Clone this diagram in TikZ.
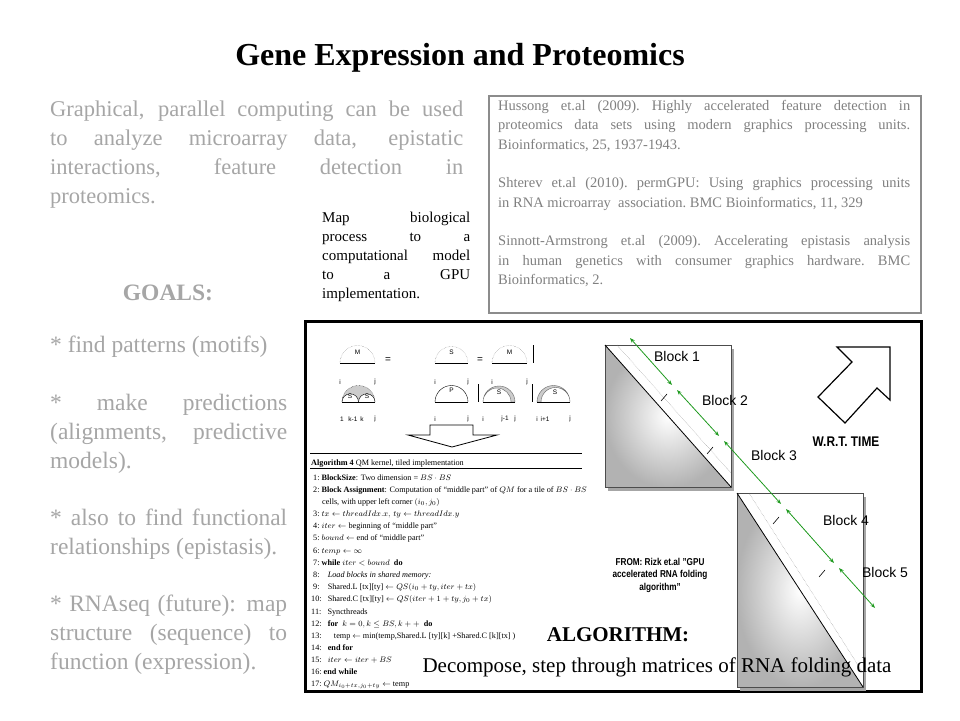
\documentclass[tikz,border=0pt]{standalone}
\usepackage{fontspec}
\setmainfont{Liberation Serif}
\setsansfont{Liberation Sans}
\usetikzlibrary{arrows.meta}
\definecolor{txtgray}{HTML}{A6A6A6}
\definecolor{grn}{HTML}{1E9A1E}
\hyphenpenalty=10000
\exhyphenpenalty=10000
\hbadness=10000
\begin{document}
\begin{tikzpicture}[x=1pt,y=-1pt,
  graytxt/.style={text=txtgray,font=\fontsize{23.5}{29}\selectfont,align=justify,inner sep=0pt,anchor=north west},
  alg/.style={font=\fontsize{8.2}{10}\selectfont,anchor=base west,inner sep=0pt},
  arcl/.style={font=\fontsize{6.5}{7}\sffamily,inner sep=0pt},
  blk/.style={font=\fontsize{14}{15}\sffamily},
  sq/.style={draw=black!70,line width=0.8pt}]
\useasboundingbox (0,0) rectangle (960,720);
\fill[white] (0,0) rectangle (960,720);
\node (title) at (460,58) {\fontsize{32}{36}\selectfont\bfseries Gene Expression and Proteomics};
\node[graytxt,font=\fontsize{22.5}{29}\selectfont,text width=413pt] (intro) at (50,101) {Graphical, parallel computing can be used\linebreak to analyze microarray data, epistatic\linebreak interactions, feature detection in\linebreak proteomics.};
\node[text=txtgray,font=\fontsize{23.5}{24}\selectfont\bfseries] (goals) at (168,293) {GOALS:};
\node[graytxt,text width=237pt] (g1) at (50,336) {* find patterns (motifs)};
\node[graytxt,text width=237pt] (g2) at (50,394) {* make predictions (alignments, predictive models).};
\node[graytxt,text width=237pt] (g3) at (50,509) {* also to find functional relationships (epistasis).};
\node[graytxt,text width=237pt] (g4) at (50,595) {* RNAseq (future): map structure (sequence) to function (expression).};
\node[font=\fontsize{15}{19}\selectfont,align=justify,text width=148pt,inner sep=0pt,anchor=north west] (map) at (322,212) {Map biological\linebreak process to a\linebreak computational model\linebreak to a GPU\linebreak implementation.};
\node[draw=black!45,line width=1.5pt,minimum width=432pt,minimum height=217pt,anchor=north west] (refbox) at (488,95) {};
\node[text=black!50,font=\fontsize{14.5}{19.5}\selectfont\frenchspacing,align=justify,text width=412pt,inner sep=0pt,anchor=north west] (refs) at (498,100) {Hussong et.al (2009). Highly accelerated feature detection in\linebreak proteomics data sets using modern graphics processing units.\linebreak Bioinformatics, 25, 1937-1943.\par\vspace{19pt}
Shterev et.al (2010). permGPU: Using graphics processing units\linebreak in RNA microarray\ \ association. BMC Bioinformatics, 11, 329\par\vspace{19pt}
Sinnott-Armstrong et.al (2009). Accelerating epistasis analysis\linebreak in human genetics with consumer graphics hardware. BMC\linebreak Bioinformatics, 2.};
\node[draw=black,line width=2.5pt,minimum width=616pt,minimum height=370pt,anchor=north west] (bigbox) at (304,320) {};
% arcs row 1
\foreach \a/\b/\l in {340/375/M,435/468/S,492/527/M}{
  \draw[densely dotted,gray] (\a,363) arc[start angle=180,end angle=360,radius={(\b-\a)/2}];
  \draw[line width=0.9pt] (\a,363) -- (\b,363);
  \node[arcl] at ({(\a+\b)/2},352) {\l};
  \node[arcl] at (\a,382) {i}; \node[arcl] at (\b,382) {j};}
\node[font=\fontsize{10}{10}\sffamily] at (388,360) {=};
\node[font=\fontsize{10}{10}\sffamily] at (480,360) {=};
\draw (533,345) -- (533,363);
% row 2
\fill[black!20] (342,402) arc[start angle=180,end angle=360,radius=16.5] -- cycle;
\draw[densely dotted] (342,402) arc[start angle=180,end angle=360,radius=16.5];
\filldraw[fill=white] (342,402) arc[start angle=180,end angle=360,radius=8.25];
\filldraw[fill=white] (358.5,402) arc[start angle=180,end angle=360,radius=8.25];
\draw[line width=0.9pt] (342,402) -- (375,402);
\node[arcl] at (350,396) {S}; \node[arcl] at (367,396) {S};
\node[arcl] at (342,419) {1}; \node[arcl] at (353,419) {k-1}; \node[arcl] at (362,419) {k}; \node[arcl] at (375,419) {j};
\draw (435,402) arc[start angle=180,end angle=360,radius=16.5];
\draw[line width=0.9pt] (435,402) -- (468,402);
\node[arcl] at (451.5,390) {P}; \node[arcl] at (435,419) {i}; \node[arcl] at (468,419) {j};
\draw (478,384) -- (478,402); \draw (532,384) -- (532,402);
\filldraw[fill=black!20,draw=black!60] (483,402) arc[start angle=180,end angle=360,radius=16] -- (511,402) arc[start angle=360,end angle=180,radius=14] -- cycle;
\draw[line width=0.9pt] (483,402) -- (515,402);
\node[arcl] at (499,392) {S}; \node[arcl] at (483,419) {i}; \node[arcl] at (505,419) {j-1}; \node[arcl] at (515,419) {j};
\filldraw[fill=black!20,draw=black!60] (537,402) arc[start angle=180,end angle=360,radius=16.5] -- (570,402) arc[start angle=360,end angle=180,radius=14.5] -- cycle;
\draw[line width=0.9pt] (537,402) -- (570,402);
\node[arcl] at (555,392) {S}; \node[arcl] at (537,419) {i}; \node[arcl] at (545,419) {i+1}; \node[arcl] at (570,419) {j};
% down arrow
\draw[line width=0.8pt] (430,425) -- (473,425) -- (473,435) -- (497,435) -- (452,447) -- (408,435) -- (430,435) -- cycle;
% algorithm
\draw[line width=0.6pt] (310,453) -- (582,453);
\draw[line width=0.4pt] (310,468) -- (582,468);
\node[alg] (ah) at (311,465) {\textbf{Algorithm 4} QM kernel, tiled implementation};
\node[alg] (a1) at (313,480) {1:\ \textbf{BlockSize}: Two dimension = $BS\cdot BS$};
\node[alg] (a2) at (313,492) {2:\ \textbf{Block Assignment}: Computation of ``middle part'' of $QM$ for a tile of $BS\cdot BS$};
\node[alg] (a2b) at (322,504) {cells, with upper left corner $(i_0,j_0)$};
\node[alg] (a3) at (313,516) {3:\ $tx\leftarrow threadIdx.x,\,ty\leftarrow threadIdx.y$};
\node[alg] (a4) at (313,528) {4:\ $iter\leftarrow$ beginning of ``middle part''};
\node[alg] (a5) at (313,540) {5:\ $bound\leftarrow$ end of ``middle part''};
\node[alg] (a6) at (313,553) {6:\ $temp\leftarrow\infty$};
\node[alg] (a7) at (313,565) {7:\ \textbf{while} $iter<bound$\ \ \textbf{do}};
\node[alg] (a8) at (313,577) {8:\ \ \ \ \textit{Load blocks in shared memory:}};
\node[alg] (a9) at (313,589) {9:\ \ \ \ Shared.L [tx][ty] $\leftarrow QS(i_0+ty,iter+tx)$};
\node[alg] (a10) at (311,601) {10:\ \ \ Shared.C [tx][ty] $\leftarrow QS(iter+1+ty,j_0+tx)$};
\node[alg] (a11) at (311,614) {11:\ \ \ Syncthreads};
\node[alg] (a12) at (311,626) {12:\ \ \ \textbf{for}\ \ $k=0,k\le BS,k++$\ \ \textbf{do}};
\node[alg] (a13) at (311,638) {13:\ \ \ \ \ \ temp $\leftarrow$ min(temp,Shared.L [ty][k] +Shared.C [k][tx] )};
\node[alg] (a14) at (311,650) {14:\ \ \ \textbf{end for}};
\node[alg] (a15) at (311,662) {15:\ \ \ $iter\leftarrow iter+BS$};
\node[alg] (a16) at (311,674) {16:\ \textbf{end while}};
\node[alg] (a17) at (311,686) {17:\ $QM_{i_0+tx,j_0+ty}\leftarrow$ temp};
% matrices
\begin{scope}
\clip (304,320) rectangle (920,690);
\foreach \x/\y/\w/\h in {605/345/126/142,737/493/126/194}{
  \fill[black!35] (\x+3,\y+4) rectangle (\x+\w+3,\y+\h+4);
  \fill[white] (\x,\y) rectangle (\x+\w,\y+\h);
  \shade[inner color=white,outer color=black!30] (\x,\y) -- (\x+\w,\y+\h) -- (\x,\y+\h) -- cycle;
  \draw[sq] (\x,\y) rectangle (\x+\w,\y+\h);
  \draw[line width=0.8pt] (\x,\y) -- (\x+\w,\y+\h);
  \draw[densely dotted,gray] (\x+12,\y) -- (\x+\w,\y+\h-14);}
\draw[line width=0.6pt] (661,401) -- (667,394); \draw[line width=0.6pt] (707,454) -- (713,447);
\draw[line width=0.6pt] (773,524) -- (779,517); \draw[line width=0.6pt] (819,577) -- (825,570);
\coordinate (p0) at (630,338); \coordinate (p1) at (672,385); \coordinate (p2) at (677,390);
\coordinate (p3) at (719,436); \coordinate (p4) at (724,441); \coordinate (p5) at (781,504);
\coordinate (p6) at (786,509); \coordinate (p7) at (834,563); \coordinate (p8) at (839,568); \coordinate (p9) at (875,608);
\foreach \s/\e in {p0/p1,p2/p3,p4/p5,p6/p7,p8/p9}
  \draw[grn,line width=0.8pt,{Stealth[length=5pt]}-{Stealth[length=5pt]}] (\s) -- (\e);
\end{scope}
\node[blk] (b1) at (677,356) {Block 1};
\node[blk] (b2) at (725,400) {Block 2};
\node[blk] (b3) at (774,455) {Block 3};
\node[blk] (b4) at (846,520) {Block 4};
\node[blk] (b5) at (885,572) {Block 5};
\draw[line width=1.2pt] (837,347) -- (890,347) -- (890,400) -- (877,388) -- (845,423) -- (818,397) -- (852,362) -- cycle;
\node[font=\fontsize{14}{15}\sffamily\bfseries,xscale=0.85] (wrt) at (846,442) {W.R.T. TIME};
\node[font=\fontsize{10}{12.5}\sffamily\bfseries,align=center,xscale=0.82] (from) at (660,575) {FROM: Rizk et.al "GPU\\accelerated RNA folding\\algorithm"};
\node[font=\fontsize{21}{24}\selectfont\bfseries] (algt) at (618,635) {ALGORITHM:};
\node[font=\fontsize{21}{24}\selectfont] (dec) at (657,667) {Decompose, step through matrices of RNA folding data};
\end{tikzpicture}
\end{document}
